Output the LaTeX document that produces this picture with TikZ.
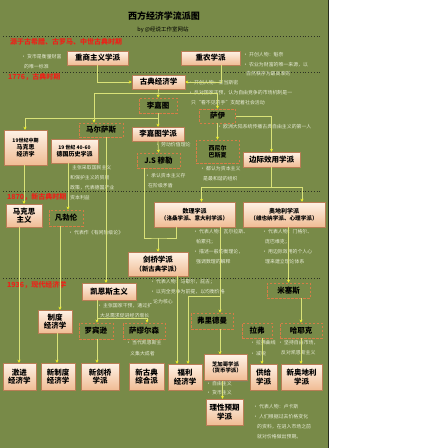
\documentclass[tikz,border=0pt]{standalone}
\usepackage{fontspec}
\setmainfont{Noto Sans CJK SC}
\usetikzlibrary{arrows.meta,shadows}
\definecolor{bggreen} {RGB}{120,138, 72}
\definecolor{edgeline}{RGB}{ 40, 45, 30}
\definecolor{peachtop}{RGB}{254,242,230}
\definecolor{peachbot}{RGB}{240,188,148}
\definecolor{boxedge} {RGB}{185,125, 85}
\definecolor{dashedge}{RGB}{215,125, 70}
\definecolor{linkcol} {RGB}{218,226,120}
\definecolor{tipcol}  {RGB}{240,240, 40}
\definecolor{notetext}{RGB}{232,236,215}
\definecolor{erared}  {RGB}{235, 35, 25}
\definecolor{sepcol}  {RGB}{ 45, 50, 35}
\tikzset{
  school/.style={draw=boxedge,top color=peachtop,bottom color=peachbot,
                 font=\bfseries\fontsize{7.5}{8.5}\selectfont,align=center,
                 inner sep=1pt,line width=0.5pt,
                 drop shadow={shadow xshift=1pt,shadow yshift=-1pt,opacity=0.35}},
  person/.style={draw=dashedge,dash pattern=on 2.5pt off 1.5pt,line width=0.9pt,
                 font=\bfseries\fontsize{7.5}{8.5}\selectfont,align=center,
                 inner sep=1pt},
  note/.style={anchor=west,inner sep=0pt,text=notetext,
               font=\fontsize{4.9}{5.5}\selectfont},
  era/.style={anchor=west,inner sep=0pt,text=erared,
              font=\bfseries\fontsize{7}{8}\selectfont},
  link/.style={draw=linkcol,line width=0.7pt},
  arr/.style={link,-{Stealth[length=3pt,width=3.2pt,color=tipcol]}},
  sepline/.style={draw=sepcol,dotted,line width=0.8pt},
  small/.style={font=\bfseries\fontsize{6}{7}\selectfont},
  tiny/.style={font=\bfseries\fontsize{5.4}{6.6}\selectfont},
}
\begin{document}
\begin{tikzpicture}[x=1pt,y=-1pt]
  \useasboundingbox (0,0) rectangle (432,448);
  \fill[white] (0,0) rectangle (432,448);
  \fill[bggreen] (0,0) rectangle (328,448);
  \draw[edgeline,line width=1.5pt] (328.5,0) -- (328.5,448);

  \node[font=\bfseries\fontsize{9}{10}\selectfont] (title) at (164,16) {西方经济学流派图};
  \node[font=\fontsize{5.5}{6}\selectfont] (byline) at (163,30) {by @经说工作室网站};

  \draw[sepline] (3,36) -- (322,36);
  \draw[sepline] (3,72) -- (322,72);
  \draw[sepline] (3,191) -- (322,191);
  \draw[sepline] (3,278) -- (322,278);

  \node[era] (era1) at (10,42) {源于古希腊、古罗马、中世古典时期};
  \node[era] (era2) at (8,77) {1776，古典时期};
  \node[era] (era3) at (7,197) {1870，新古典时期};
  \node[era] (era4) at (7,285) {1936，现代经济学};

  \node[school,minimum width=61,minimum height=14] (zs) at (97.5,58) {重商主义学派};
  \node[school,minimum width=59,minimum height=14] (zn) at (210.5,58) {重农学派};
  \node[school,minimum width=53,minimum height=14] (gd) at (158.5,82) {古典经济学};
  \node[person,minimum width=38,minimum height=15] (ljt) at (158,105.5) {李嘉图};
  \node[person,minimum width=36,minimum height=14] (say) at (217.5,116) {萨伊};
  \node[person,minimum width=44,minimum height=14] (mes) at (101,130) {马尔萨斯};
  \node[school,minimum width=52,minimum height=14] (ljtx) at (158,134) {李嘉图学派};
  \node[school,small,minimum width=43,minimum height=35] (mkj) at (25.5,147.5)
    {{\fontsize{5}{6}\selectfont 19世纪中期}\\马克思\\经济学};
  \node[school,small,minimum width=47,minimum height=24] (dg) at (74.5,151)
    {{\fontsize{5}{6}\selectfont 19 世纪 40-60}\\德国历史学派};
  \node[person,minimum width=43,minimum height=15] (jsm) at (158.5,160.5) {J.S 穆勒};
  \node[person,small,minimum width=43,minimum height=23] (xne) at (217.5,151.5) {西尼尔\\巴斯夏};
  \node[school,minimum width=57,minimum height=15] (bj) at (271.5,159.5) {边际效用学派};
  \node[school,small,minimum width=81,minimum height=25] (sl) at (194.5,214.5)
    {数理学派\\{\fontsize{5.6}{6.6}\selectfont （洛桑学派、意大利学派）}};
  \node[school,small,minimum width=82,minimum height=25] (adl) at (284,214.5)
    {奥地利学派\\{\fontsize{5.6}{6.6}\selectfont （维也纳学派、心理学派）}};
  \node[school,minimum width=36,minimum height=23] (mkz) at (24,215.5) {马克思\\主义};
  \node[person,minimum width=34,minimum height=16] (fbl) at (66,218) {凡勃伦};
  \node[school,minimum width=60,minimum height=24] (jq) at (158,264)
    {剑桥学派\\{\fontsize{6.4}{7.4}\selectfont （新古典学派）}};
  \node[school,minimum width=54,minimum height=17] (kes) at (109,291.5) {凯恩斯主义};
  \node[person,minimum width=43,minimum height=15] (mss) at (288.5,290.5) {米塞斯};
  \node[school,minimum width=34,minimum height=23] (zd) at (55,321.5) {制度\\经济学};
  \node[person,minimum width=34,minimum height=16] (lbx) at (96,331) {罗宾逊};
  \node[person,minimum width=42,minimum height=16] (sms) at (144,331) {萨缪尔森};
  \node[person,minimum width=42,minimum height=16] (frd) at (212,321) {弗里德曼};
  \node[person,minimum width=30,minimum height=15] (lf) at (257,330.5) {拉弗};
  \node[person,minimum width=42,minimum height=15] (hyk) at (301,330.5) {哈耶克};

  \node[school,minimum width=33,minimum height=27] (jj) at (19.5,376.5) {激进\\经济学};
  \node[school,minimum width=34,minimum height=27] (xzd) at (58,376.5) {新制度\\经济学};
  \node[school,minimum width=38,minimum height=27] (xjq) at (100,376.5) {新剑桥\\学派};
  \node[school,minimum width=35,minimum height=27] (xgd) at (146.5,376.5) {新古典\\综合派};
  \node[school,minimum width=34,minimum height=26] (fl) at (185,377) {福利\\经济学};
  \node[school,tiny,minimum width=43,minimum height=26] (zjg) at (225.5,367.5) {芝加哥学派\\（货币学派）};
  \node[school,minimum width=27,minimum height=26] (gj) at (263.5,377) {供给\\学派};
  \node[school,minimum width=41,minimum height=26] (xadl) at (301.5,377) {新奥地利\\学派};
  \node[school,minimum width=37,minimum height=26] (lxyq) at (224.5,412) {理性预期\\学派};

  \node[note] at (21,57) {· 货币是衡量财富};
  \node[note] at (24,67) {的唯一标准};
  \node[note] at (243,55) {· 开创人物：魁奈};
  \node[note] at (243,64.5) {· 农业为财富的唯一来源，以};
  \node[note] at (246,74) {自然秩序为最高准则};
  \node[note] at (188,83) {· 开创人物：亚当斯密};
  \node[note] at (188,93) {· 反对国家干预，认为自由竞争的市场机制是一};
  \node[note] at (191,103) {只“看不见的手”支配着社会活动};
  \node[note] at (217,127) {· 欧洲大陆系统传播古典自由主义的第一人};
  \node[note] at (155,145) {· 劳动价值理论};
  \node[note] at (145,176) {· 承认资本主义存};
  \node[note] at (148,186) {在阶级矛盾};
  \node[note] at (200,169) {· 都认为资本主义};
  \node[note] at (203,179) {是最和谐的组织};
  \node[note] at (66,168) {· 主张采取国民主义};
  \node[note] at (70,178) {和保护主义的贸易};
  \node[note] at (70,188) {政策，代表德国产业};
  \node[note] at (70,198) {资本利益};
  \node[note] at (68,233) {· 代表作《有闲阶级论》};
  \node[note] at (193,232) {· 代表人物：瓦尔拉斯、};
  \node[note] at (196,242) {帕累托；};
  \node[note] at (193,252) {· 描述一般均衡理论，};
  \node[note] at (196,262) {强调数理的解释};
  \node[note] at (262,232) {· 代表人物：门格尔、};
  \node[note] at (265,242) {庞巴维克；};
  \node[note] at (262,252) {· 用边际效用的个人心};
  \node[note] at (265,262) {理来建立理论体系};
  \node[note] at (150,282) {· 代表人物：马歇尔，庇古；};
  \node[note] at (150,292) {· 以完全竞争为前提，以均衡价格};
  \node[note] at (153,302) {论为核心};
  \node[note] at (97,306) {· 主张国家干预，通过扩};
  \node[note] at (100,316) {大总需求促进经济增长};
  \node[note] at (126,343) {· 当代凯恩斯主};
  \node[note] at (130,354) {义集大成者};
  \node[note] at (250,343) {· 拉弗曲线};
  \node[note] at (250,354) {· 减税};
  \node[note] at (278,343) {· 坚持自由市场，};
  \node[note] at (281,353) {反对凯恩斯主义};
  \node[note] at (206,384) {· 自由主义};
  \node[note] at (206,393) {· 货币主义};
  \node[note] at (253,407) {· 代表人物：卢卡斯};
  \node[note] at (253,417) {· 人们根据过去价格变化};
  \node[note] at (257,427) {的资料，在进入市场之前};
  \node[note] at (257,437) {就对价格做出预期。};

  \coordinate (gsplit) at (158.5,93);
  \coordinate (rsplit) at (158,118);
  \coordinate (bsplit) at (271.5,187);
  \coordinate (cjoin)  at (158,238);
  \coordinate (ksplit) at (97,318);
  \coordinate (fsplit) at (220,296);

  \draw[arr] (zs.south) |- (gd.west);
  \draw[arr] ([xshift=11pt]zn.south) |- (gd.east);
  \draw[arr] (gd.south) -- (ljt.north);
  \draw[arr] (gsplit) -| ([xshift=-7pt]mes.north);
  \draw[arr] (gsplit) -| (say.north);
  \draw[arr] (ljt.south) -- (ljtx.north);
  \draw[arr] (rsplit) -| ([xshift=-0.5pt]mkj.north);
  \draw[arr] (ljtx.south) -- (jsm.north);
  \draw[arr] (say.east) -| (bj.north);
  \draw[arr] (say.south) -- (xne.north);
  \draw[link] (bj.south) -- (bsplit);
  \draw[arr] (bsplit) -| ([xshift=7pt]sl.north);
  \draw[arr] (bsplit) -| ([xshift=18pt]adl.north);
  \draw[link] ([xshift=-14.5pt]jsm.south) |- (cjoin) -| ([xshift=-18.5pt]sl.south);
  \draw[arr] (cjoin) -- (jq.north);
  \draw[arr] ([xshift=25.5pt]sl.south) -- ([xshift=8pt]frd.north);
  \draw[arr] (fsplit) -| ([xshift=3pt]fl.north);
  \draw[arr] ([xshift=4.5pt]adl.south) -- (mss.north);
  \draw[arr] ([xshift=12.5pt]mss.south) -- (hyk.north);
  \draw[arr] (hyk.south) -- ([xshift=-0.5pt]xadl.north);
  \draw[arr] ([xshift=5pt]lf.south) -- ([xshift=-1.5pt]gj.north);
  \draw[arr] ([xshift=8pt]frd.south) -- ([xshift=-5.5pt]zjg.north);
  \draw[arr] ([xshift=-3pt]zjg.south) -- ([xshift=-2pt]lxyq.north);
  \draw[arr] ([xshift=19pt]jq.south) -- ([xshift=-8pt]fl.north);

  \draw[arr] ([xshift=-1.5pt]mkj.south) -- (mkz.north);
  \draw[arr] ([xshift=-6.5pt]dg.south) -- ([xshift=2pt]fbl.north);
  \draw[arr] ([xshift=-5pt]mkz.south) -- ([xshift=-0.5pt]jj.north);
  \draw[arr] ([xshift=-6pt]fbl.south) -- ([xshift=5pt]zd.north);
  \draw[arr] ([xshift=2pt]zd.south) -- ([xshift=-1pt]xzd.north);
  \draw[arr] ([xshift=5pt]mes.south) -- ([xshift=-3pt]kes.north);
  \draw[arr] ([xshift=-12pt]kes.south) -- ([xshift=1pt]lbx.north);
  \draw[arr] (ksplit) -| ([xshift=3pt]sms.north);
  \draw[arr] ([xshift=1pt]lbx.south) -- ([xshift=-3pt]xjq.north);
\end{tikzpicture}
\end{document}
